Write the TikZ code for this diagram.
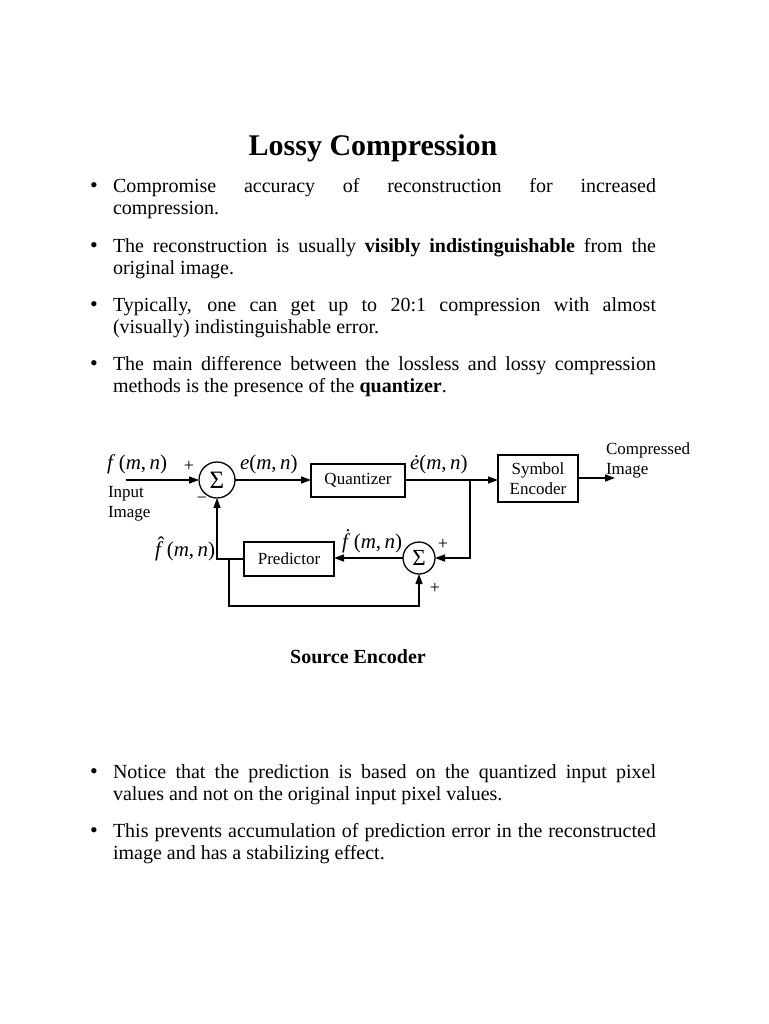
\documentclass[tikz,border=0pt]{standalone}
\usepackage{fontspec}
\setmainfont{Liberation Serif}
\usetikzlibrary{arrows.meta,calc}
\newcommand{\accf}[1]{\makebox[0pt][l]{\hspace{0.13em}\raisebox{0.22em}{#1}}\textit{f}}
\newcommand{\fmn}[1]{#1\,(\textit{m},\,\textit{n})}
\newcommand{\emn}[1]{#1(\textit{m},\,\textit{n})}
\begin{document}
\begin{tikzpicture}[x=1pt,y=-1pt,
  every node/.style={inner sep=0pt, outer sep=0pt},
  body/.style={anchor=base west, font=\fontsize{20}{22}\selectfont},
  dot/.style={anchor=base west, font=\fontsize{22}{22}\selectfont},
  blk/.style={draw, line width=1.3pt, font=\fontsize{17}{20}\selectfont, align=center},
  sumnode/.style={draw, circle, line width=1.3pt, minimum size=36pt, font=\fontsize{25}{25}\selectfont},
  lbl/.style={anchor=base west, font=\fontsize{17}{20}\selectfont},
  mlbl/.style={anchor=base west, font=\fontsize{21}{22}\selectfont},
  sgn/.style={font=\fontsize{18}{20}\selectfont},
  wire/.style={line width=1.3pt},
  arr/.style={wire, -{Triangle[length=10pt,width=7pt]}}]
\fill[white] (0,0) rectangle (768,1024);
\path[use as bounding box] (0,0) rectangle (768,1024);

% title
\node[anchor=base, font=\fontsize{30}{32}\selectfont\bfseries] (title) at (373,156) {Lossy Compression};

% bullets (top)
\node[dot] (d1) at (90,193) {\textbullet};
\node[body] (t1) at (113,193) {\parbox[t]{543pt}{\hyphenpenalty=10000 Compromise accuracy of reconstruction for increased\linebreak compression.}};
\node[dot] (d2) at (90,252) {\textbullet};
\node[body] (t2) at (113,252) {\parbox[t]{543pt}{\hyphenpenalty=10000 The reconstruction is usually \textbf{visibly indistinguishable} from the\linebreak original image.}};
\node[dot] (d3) at (90,311) {\textbullet};
\node[body] (t3) at (113,311) {\parbox[t]{543pt}{\hyphenpenalty=10000 Typically, one can get up to 20:1 compression with almost\linebreak (visually) indistinguishable error.}};
\node[dot] (d4) at (90,370) {\textbullet};
\node[body] (t4) at (113,370) {\parbox[t]{543pt}{\hyphenpenalty=10000 The main difference between the lossless and lossy compression\linebreak methods is the presence of the \textbf{quantizer}.}};

% diagram
\node[sumnode] (s1) at (217,480) {Σ};
\node[blk, minimum width=94pt, minimum height=33pt] (q) at (358,480.5) {Quantizer};
\node[blk, minimum width=80pt, minimum height=47pt] (se) at (538,478.5) {Symbol\\Encoder};
\node[blk, minimum width=90pt, minimum height=34pt] (p) at (289,559) {Predictor};
\node[sumnode, minimum size=32pt, font=\fontsize{23}{23}\selectfont] (s2) at (419,558) {Σ};

\coordinate (in) at (126,480);
\coordinate (j1) at (470,480);
\coordinate (out) at (615,478);
\coordinate (j2) at (229,559);
\coordinate (fb) at (229,606);

\draw[arr] (in) -- (s1.west);
\draw[arr] (s1.east) -- (q.west |- s1.east);
\draw[wire] (q.east |- j1) -- (j1);
\draw[arr] (j1) -- (se.west |- j1);
\draw[arr] (se.east |- out) -- (out);
\draw[arr] (j1) |- (s2.east);
\draw[arr] (s2.west) -- (p.east |- s2.west);
\draw[arr] (p.west) -| (s1.south);
\draw[arr] (j2) -- (fb) -| (s2.south);

% labels
\node[mlbl] (lf) at (107,469) {\fmn{\textit{f}}};
\node[lbl] (lin1) at (108,497) {Input};
\node[lbl] (lin2) at (108,517) {Image};
\node[sgn] (p1) at (189,466) {+};
\node[sgn] (m1) at (202,500) {−};
\node[mlbl] (le) at (240,469) {\emn{\textit{e}}};
\node[mlbl] (led) at (410,469) {\emn{\textit{\.{e}}}};
\node[mlbl] (lfh) at (155,556) {\fmn{\accf{ˆ}}};
\node[mlbl] (lfd) at (342,548) {\fmn{\accf{˙}}};
\node[sgn] (p2) at (443,544) {+};
\node[sgn] (p3) at (435,588) {+};
\node[lbl] (lc1) at (606,454) {Compressed};
\node[lbl] (lc2) at (606,474) {Image};

\node[anchor=base, font=\fontsize{20}{22}\selectfont\bfseries] (cap) at (358,663) {Source Encoder};

% bullets (bottom)
\node[dot] (d5) at (90,778) {\textbullet};
\node[body] (t5) at (113,778) {\parbox[t]{543pt}{\hyphenpenalty=10000 Notice that the prediction is based on the quantized input pixel\linebreak values and not on the original input pixel values.}};
\node[dot] (d6) at (90,837) {\textbullet};
\node[body] (t6) at (113,837) {\parbox[t]{543pt}{\hyphenpenalty=10000 This prevents accumulation of prediction error in the reconstructed\linebreak image and has a stabilizing effect.}};
\end{tikzpicture}
\end{document}
